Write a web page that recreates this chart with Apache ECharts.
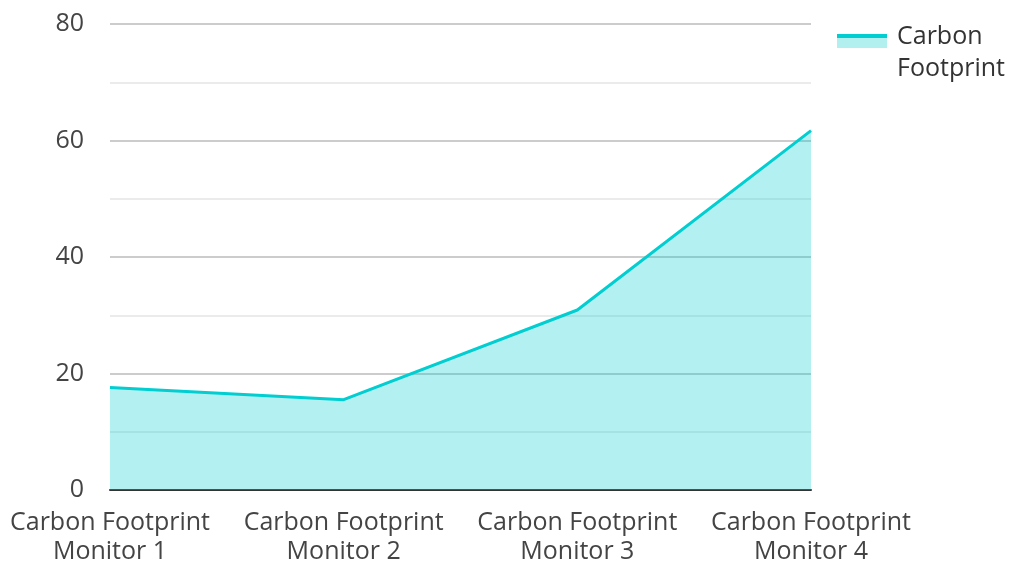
<!DOCTYPE html>
<html>
<head>
<meta charset="utf-8">
<script src="https://cdn.jsdelivr.net/npm/echarts@6/dist/echarts.min.js"></script>
<style>
html,body{margin:0;padding:0;background:#fff;}
#chart{width:1009px;height:562px;}
</style>
</head>
<body>
<div id="chart"></div>
<script>
var categories = ['Carbon Footprint\nMonitor 1', 'Carbon Footprint\nMonitor 2', 'Carbon Footprint\nMonitor 3', 'Carbon Footprint\nMonitor 4'];
var seriesName = 'Carbon Footprint';
var values = [17.6, 15.5, 30.9, 61.7];
var yTicks = [0, 20, 40, 60, 80];

var lineColor = '#00CED1';
var fontFamily = '"Open Sans", "Noto Sans", sans-serif';

var chart = echarts.init(document.getElementById('chart'));
chart.setOption({
  animation: false,
  grid: { left: 110, right: 198, top: 24, bottom: 72, containLabel: false, outerBoundsMode: 'none' },
  legend: {
    data: [seriesName],
    left: 837,
    top: 9,
    padding: 0,
    icon: 'rect',
    itemWidth: 50,
    itemHeight: 10,
    itemStyle: {
      color: '#b2f0f0',
      shadowColor: lineColor,
      shadowBlur: 0,
      shadowOffsetX: 0,
      shadowOffsetY: -4
    },
    formatter: function () { return '{s| }\n{a|Carbon}\n{a|Footprint}'; },
    textStyle: {
      fontFamily: fontFamily,
      fontSize: 25,
      color: '#333',
      padding: [0, 0, 0, 5],
      rich: {
        s: { fontSize: 4, lineHeight: 20 },
        a: { fontFamily: fontFamily, fontSize: 25, lineHeight: 32, color: '#333' }
      }
    }
  },
  xAxis: {
    type: 'category',
    data: categories,
    boundaryGap: false,
    axisLine: { show: true, lineStyle: { color: '#333', width: 2 } },
    axisTick: { show: false },
    axisLabel: {
      interval: 0,
      fontFamily: fontFamily,
      fontSize: 25,
      lineHeight: 29,
      color: '#444',
      margin: 18
    },
    splitLine: { show: false }
  },
  yAxis: {
    type: 'value',
    min: yTicks[0],
    max: yTicks[yTicks.length - 1],
    interval: yTicks[1] - yTicks[0],
    axisLine: { show: false },
    axisTick: { show: false },
    axisLabel: {
      fontFamily: fontFamily,
      fontSize: 25,
      color: '#444',
      margin: 26
    },
    splitLine: { show: true, lineStyle: { color: '#cccccc', width: 2 } },
    minorTick: { show: false, splitNumber: 2 },
    minorSplitLine: { show: true, lineStyle: { color: '#ebebeb', width: 2 } }
  },
  series: [{
    name: seriesName,
    type: 'line',
    data: values,
    showSymbol: false,
    symbol: 'none',
    lineStyle: { color: lineColor, width: 3 },
    itemStyle: { color: lineColor },
    areaStyle: { color: lineColor, opacity: 0.3 }
  }]
});
</script>
</body>
</html>
